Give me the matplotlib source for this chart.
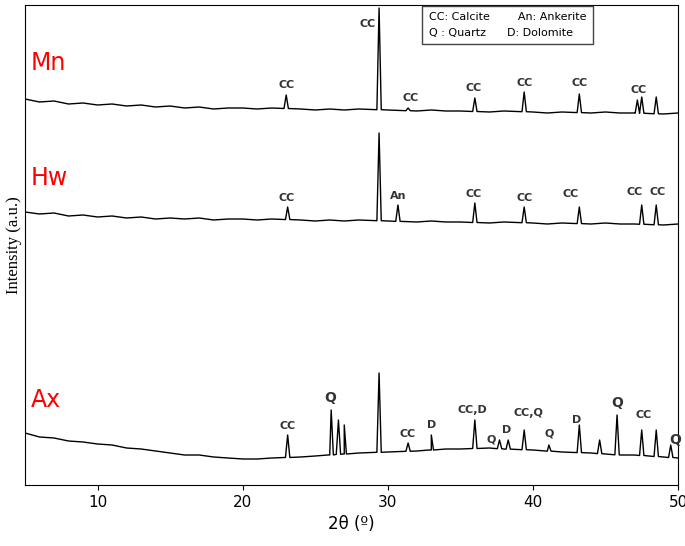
import numpy as np
import matplotlib
matplotlib.use("Agg")
import matplotlib.pyplot as plt

# baseline samples (2theta, intensity), intensity in arbitrary units
bx = [5,6,7,8,9,10,11,12,13,14,15,16,17,18,19,20,21,22,24,25,26,27,28,30,32,33,34,35,37,38,40,41,42,44,45,46,47,49,50]
mn_base = [386,383,384,381,382,380,381,379,380,378,379,377,378,376,377,377,376,377,376,375,376,375,376,375,374,375,374,374,373,374,373,372,373,372,373,372,372,371,372]
hw_base = [273,271,272,269,270,268,269,267,268,266,267,266,267,265,266,266,265,266,265,264,265,264,265,264,263,264,263,263,262,263,262,261,262,261,262,261,261,260,261]
ax_base = [52,48,47,44,43,41,40,37,36,34,32,30,30,28,27,26,26,27,28,29,30,31,32,33,34,35,36,36,37,36,35,34,33,32,31,30,30,28,27]

# peaks: position, apex intensity
mn_px = [23.0, 29.4, 31.4, 36.0, 39.4, 43.2, 47.2, 47.5, 48.5]
mn_py = [390, 477, 377, 387, 393, 391, 385, 388, 388]
hw_px = [23.1, 29.4, 30.7, 36.0, 39.4, 43.2, 47.5, 48.5]
hw_py = [278, 352, 280, 282, 278, 278, 280, 280]
ax_px = [23.1, 26.1, 26.6, 27.0, 29.4, 31.4, 33.0, 36.0, 37.7, 38.3, 39.4, 41.1, 43.2, 44.6, 45.8, 47.5, 48.5, 49.5]
ax_py = [50, 75, 65, 60, 112, 42, 50, 65, 45, 45, 55, 40, 60, 45, 70, 55, 55, 40]

def build(base, px, py):
    xs = list(bx); ys = list(base)
    for p, h in zip(px, py):
        b = np.interp(p, bx, base)
        xs += [p - 0.15, p, p + 0.15]
        ys += [b, h, b]
    o = np.argsort(xs, kind="stable")
    return np.array(xs)[o], np.array(ys)[o]

fig = plt.figure(figsize=(6.85, 5.46), dpi=100)
ax = fig.add_axes([25/685, 61/546, 653/685, 480/546])
for base, px, py in [(mn_base, mn_px, mn_py), (hw_base, hw_px, hw_py), (ax_base, ax_px, ax_py)]:
    x, y = build(base, px, py)
    ax.plot(x, y, color="black", lw=1)
ax.set_xlim(5, 50)
ax.set_ylim(0, 480)
ax.set_yticks([])
ax.set_xticks([10, 20, 30, 40, 50])
ax.tick_params(labelsize=11)
ax.set_xlabel("2θ (º)", fontsize=12)
ax.set_ylabel("Intensity (a.u.)", fontsize=12, family="Liberation Serif", labelpad=2)

for name, yy in [("Mn", 415), ("Hw", 300), ("Ax", 78)]:
    ax.text(5.4, yy, name, color="red", fontsize=17)

def lab(x, y, s, fs=8):
    ax.text(x, y, s, ha="center", va="bottom", fontsize=fs, fontweight="bold", color="#333333")

for x, y, s in [(23.0,395,"CC"),(28.6,456,"CC"),(31.6,382,"CC"),(35.9,392,"CC"),(39.4,397,"CC"),(43.2,397,"CC"),(47.3,390,"CC"),
                (23.0,282,"CC"),(30.7,284,"An"),(35.9,286,"CC"),(39.4,282,"CC"),(42.6,286,"CC"),(47.0,288,"CC"),(48.6,288,"CC"),
                (23.1,54,"CC"),(31.4,46,"CC"),(33.0,55,"D"),(35.8,70,"CC,D"),(37.1,40,"Q"),(38.2,50,"D"),(39.7,67,"CC,Q"),(41.1,46,"Q"),(43.0,60,"D"),(47.6,65,"CC")]:
    lab(x, y, s)
for x, y, s in [(26.0,80,"Q"),(45.8,75,"Q"),(49.8,38,"Q")]:
    lab(x, y, s, 10)

ax.text(0.618, 0.985, "CC: Calcite        An: Ankerite\nQ : Quartz      D: Dolomite", transform=ax.transAxes,
        ha="left", va="top", fontsize=8, linespacing=1.7,
        bbox=dict(boxstyle="square,pad=0.6", fc="white", ec="#444444", lw=1))
fig.savefig("out.png", dpi=100)
